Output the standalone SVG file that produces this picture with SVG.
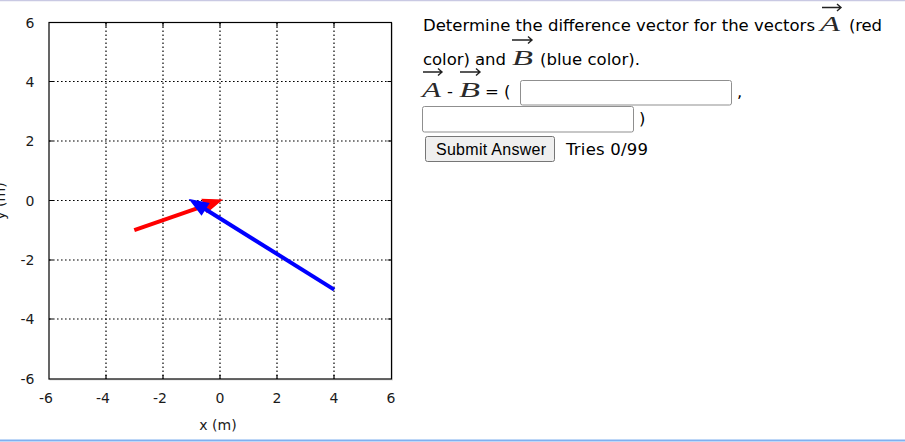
<svg xmlns="http://www.w3.org/2000/svg" width="905" height="442" viewBox="0 0 905 442">
<defs>
<style>
.tick{font-family:"DejaVu Sans",sans-serif;font-size:14px;fill:#1a1a1a}
.grid{stroke:#000;stroke-width:1.2;stroke-dasharray:1.6,2.4;fill:none}
.p{font-family:"DejaVu Sans",sans-serif;font-size:16.5px;fill:#000}
.m{font-family:"Liberation Serif",serif;font-style:italic;font-size:20px;fill:#2a2a2a}
.vec{stroke:#222;stroke-width:1.4;fill:none}
.box{fill:#fff;stroke:#8f8f8f;stroke-width:1}
</style>
</defs>
<rect width="905" height="442" fill="#fff"/>
<line x1="0" y1="0.5" x2="905" y2="0.5" stroke="#c9c9e3" stroke-width="1.5"/>
<line x1="0" y1="440.5" x2="905" y2="440.5" stroke="#7fb0f0" stroke-width="2"/>
<g id="plot">
<rect x="50" y="23.5" width="342.5" height="356.5" fill="none" stroke="#ddd" stroke-width="1"/>
<rect x="49" y="22.5" width="342.5" height="356.5" fill="#fff" stroke="#000" stroke-width="1.2"/>
<g class="grid">
<line x1="106" y1="22.5" x2="106" y2="379"/>
<line x1="163" y1="22.5" x2="163" y2="379"/>
<line x1="220" y1="22.5" x2="220" y2="379"/>
<line x1="277" y1="22.5" x2="277" y2="379"/>
<line x1="334" y1="22.5" x2="334" y2="379"/>
<line x1="49" y1="81.5" x2="391.5" y2="81.5"/>
<line x1="49" y1="141" x2="391.5" y2="141"/>
<line x1="49" y1="200.5" x2="391.5" y2="200.5"/>
<line x1="49" y1="260" x2="391.5" y2="260"/>
<line x1="49" y1="319" x2="391.5" y2="319"/>
</g>
<g stroke="#000" stroke-width="1.2">
<path d="M106 22.5v4M163 22.5v4M220 22.5v4M277 22.5v4M334 22.5v4M106 379v-4M163 379v-4M220 379v-4M277 379v-4M334 379v-4"/>
<path d="M49 81.5h4M49 141h4M49 200.5h4M49 260h4M49 319h4M391.5 81.5h-4M391.5 141h-4M391.5 200.5h-4M391.5 260h-4M391.5 319h-4"/>
</g>
<g class="tick" text-anchor="end">
<text x="34.5" y="27.5">6</text>
<text x="34.5" y="86.5">4</text>
<text x="34.5" y="146">2</text>
<text x="34.5" y="205.5">0</text>
<text x="34.5" y="265">-2</text>
<text x="34.5" y="324">-4</text>
<text x="34.5" y="384">-6</text>
</g>
<g class="tick" text-anchor="middle">
<text x="46" y="403">-6</text>
<text x="103" y="403">-4</text>
<text x="160" y="403">-2</text>
<text x="220" y="403">0</text>
<text x="277" y="403">2</text>
<text x="334" y="403">4</text>
<text x="391" y="403">6</text>
<text x="218" y="430">x (m)</text>
<text transform="translate(5,201) rotate(-90)">y (m)</text>
</g>
</g>
<g id="connectors">
<g id="vecA">
<line x1="134.3" y1="230.2" x2="205" y2="205.7" stroke="#ff0000" stroke-width="4"/>
<polygon points="221,200.2 207,212 202.5,199.5" fill="#ff0000" stroke="#ff0000" stroke-width="1.5"/>
</g>
<g id="vecB">
<line x1="334.2" y1="289.6" x2="205" y2="209" stroke="#0000ff" stroke-width="4"/>
<polygon points="190.5,200 208.5,203.5 201.5,214.5" fill="#0000ff" stroke="#0000ff" stroke-width="1.5"/>
</g>
</g>
<g id="question">
<text class="p" x="423" y="31" textLength="392">Determine the difference vector for the vectors</text>
<text class="m" x="820" y="31" textLength="20" lengthAdjust="spacingAndGlyphs">A</text>
<path class="vec" d="M822 7.5h19M837 4l4 3.5l-4 3.5"/>
<text class="p" x="849" y="31" textLength="33">(red</text>
<text class="p" x="423" y="64.5" textLength="83">color) and</text>
<text class="m" x="512" y="65" textLength="21" lengthAdjust="spacingAndGlyphs">B</text>
<path class="vec" d="M512 40h20M528 36.5l4 3.5l-4 3.5"/>
<text class="p" x="540" y="64.5" textLength="100">(blue color).</text>
<text class="m" x="422" y="97" textLength="19" lengthAdjust="spacingAndGlyphs">A</text>
<path class="vec" d="M423 72h19M438 68.5l4 3.5l-4 3.5"/>
<text class="p" x="447" y="97">-</text>
<text class="m" x="459" y="97" textLength="21" lengthAdjust="spacingAndGlyphs">B</text>
<path class="vec" d="M460 72h20M476 68.5l4 3.5l-4 3.5"/>
<text class="p" x="485" y="97">= (</text>
</g>
<g id="input1"><rect class="box" x="520.5" y="80.5" width="211" height="24.5" rx="2"/></g>
<text class="p" x="737" y="97">,</text>
<g id="input2"><rect class="box" x="422.5" y="106.5" width="211" height="25.5" rx="2"/></g>
<text class="p" x="639" y="124">)</text>
<g id="submit">
<rect x="425.5" y="136.5" width="129" height="25" rx="2" fill="#efefef" stroke="#767676" stroke-width="1"/>
<text x="491" y="154.5" text-anchor="middle" font-family="Liberation Sans, Arial, sans-serif" font-size="16" textLength="110" fill="#000">Submit Answer</text>
</g>
<text class="p" x="566" y="154.5" textLength="82">Tries 0/99</text>
</svg>
